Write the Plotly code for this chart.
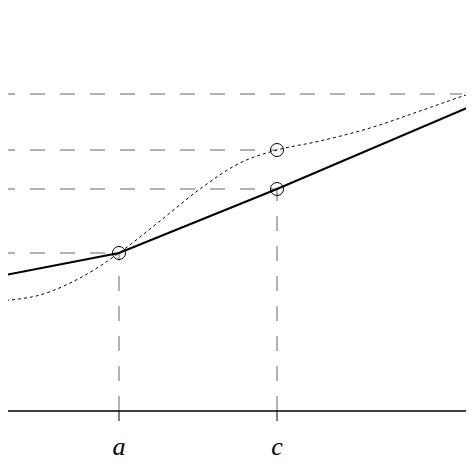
import plotly.graph_objects as go

# knot positions and labels
knot_x = [119, 277]
knot_labels = ["a", "c"]

# piecewise linear function
lin_x = [0, 119, 277, 474]
lin_y = [135, 158, 222, 306]

# smooth curve (dotted)
curve_x = [0, 40, 80, 119, 160, 200, 240, 277, 320, 370, 420, 474]
curve_y = [110, 116, 133, 158, 190, 222, 248, 261, 270, 283, 300, 319]

# marked points
pt_x = [119, 277, 277]
pt_y = [158, 222, 261]
top_level = 317

fig = go.Figure()

dash = dict(color="#666", width=1, dash="longdash")
for x, y in zip(pt_x, pt_y):
    fig.add_trace(go.Scatter(x=[0, x], y=[y, y], mode="lines", line=dash))
for x in knot_x:
    fig.add_trace(go.Scatter(x=[x, x], y=[0, 158 if x == 119 else 222], mode="lines", line=dash))
    fig.add_trace(go.Scatter(x=[x, x], y=[0, -10], mode="lines", line=dict(color="black", width=1)))
fig.add_trace(go.Scatter(x=[0, 462], y=[top_level, top_level], mode="lines", line=dash))

fig.add_trace(go.Scatter(x=[0, 474], y=[0, 0], mode="lines", line=dict(color="black", width=1.5)))
fig.add_trace(go.Scatter(x=curve_x, y=curve_y, mode="lines",
                         line=dict(color="black", width=1, dash="dot", shape="spline")))
fig.add_trace(go.Scatter(x=lin_x, y=lin_y, mode="lines", line=dict(color="black", width=2)))
fig.add_trace(go.Scatter(x=pt_x, y=pt_y, mode="markers",
                         marker=dict(size=13, color="rgba(0,0,0,0)", line=dict(color="black", width=1))))
fig.add_trace(go.Scatter(x=knot_x, y=[-37, -37], mode="text",
                         text=["<i>%s</i>" % t for t in knot_labels],
                         textfont=dict(family="Liberation Serif", size=26, color="black")))

fig.update_layout(
    width=474, height=474, margin=dict(l=0, r=0, t=0, b=0),
    paper_bgcolor="white", plot_bgcolor="white", showlegend=False,
    xaxis=dict(range=[8, 482], visible=False),
    yaxis=dict(range=[-71, 403], visible=False),
)
fig.write_html("out.html")
